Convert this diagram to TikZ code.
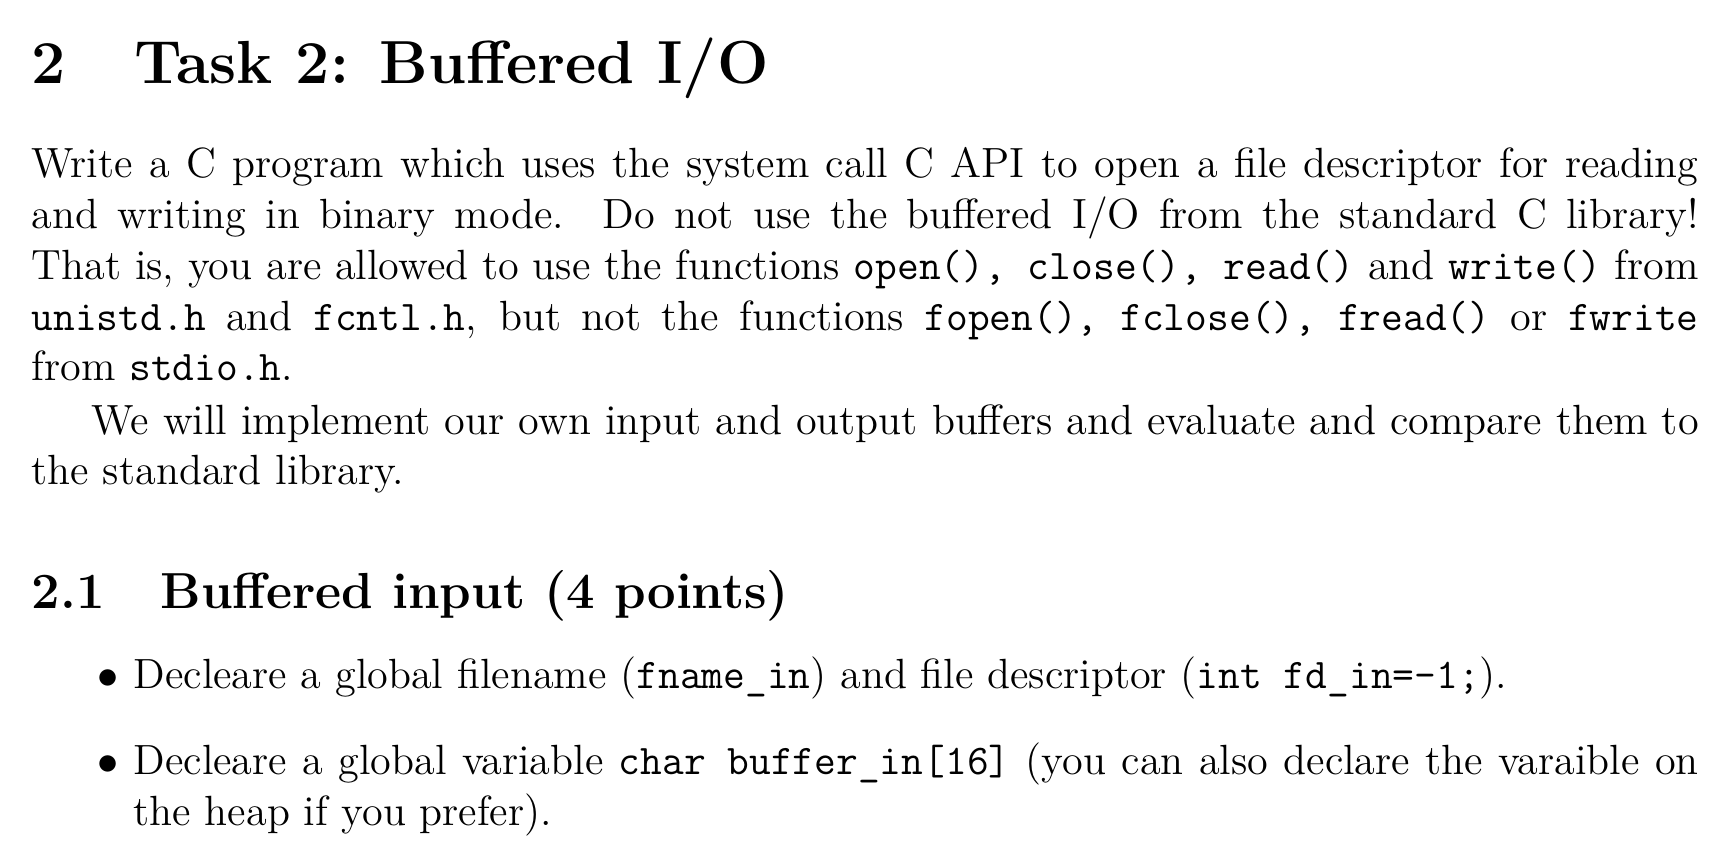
\documentclass[tikz,border=0pt]{standalone}
\usepackage{fontspec}
\newlength\tw \setlength\tw{473.4pt}
\newlength\bw \setlength\bw{444.5pt}
\begin{document}
\begin{tikzpicture}[x=0.284pt,y=-0.284pt,
  txt/.style={anchor=base west,inner sep=0pt,font=\fontsize{12}{14.5}\selectfont},
  sec/.style={anchor=base west,inner sep=0pt,font=\fontsize{17.28}{22}\selectfont\bfseries},
  sub/.style={anchor=base west,inner sep=0pt,font=\fontsize{14.4}{18}\selectfont\bfseries}]
\useasboundingbox (0,0) rectangle (1734,862);
\node[sec] (h1n) at (31,83) {2};
\node[sec] (h1) at (134,83) {Task 2: Buffered I/O};
\node[txt] (l1) at (31,177) {\makebox[\tw][s]{Write a C program which uses the system call C API to open a file descriptor for reading}};
\node[txt] (l2) at (31,228) {\makebox[\tw][s]{and writing in binary mode.\ \ Do not use the buffered I/O from the standard C library!}};
\node[txt] (l3) at (31,279) {\makebox[\tw][s]{That is, you are allowed to use the functions \texttt{open(), close(), read()} and \texttt{write()} from}};
\node[txt] (l4) at (31,330) {\makebox[\tw][s]{\texttt{unistd.h} and \texttt{fcntl.h}, but not the functions \texttt{fopen(), fclose(), fread()} or \texttt{fwrite}}};
\node[txt] (l5) at (31,380) {from \texttt{stdio.h}.};
\node[txt] (l6) at (91,434) {\makebox[\dimexpr\tw-17pt\relax][s]{We will implement our own input and output buffers and evaluate and compare them to}};
\node[txt] (l7) at (31,484) {the standard library.};
\node[sub] (h2n) at (31,608) {2.1};
\node[sub] (h2) at (160,608) {Buffered input (4 points)};
\node[txt] (b1) at (97,688) {$\bullet$};
\node[txt] (b1t) at (133,688) {Decleare a global filename (\texttt{fname\_in}) and file descriptor (\texttt{int fd\_in=-1;}).};
\node[txt] (b2) at (97,774) {$\bullet$};
\node[txt] (b2t) at (133,774) {\makebox[\bw][s]{Decleare a global variable \texttt{char buffer\_in[16]} (you can also declare the varaible on}};
\node[txt] (b2u) at (133,825) {the heap if you prefer).};
\end{tikzpicture}
\end{document}
